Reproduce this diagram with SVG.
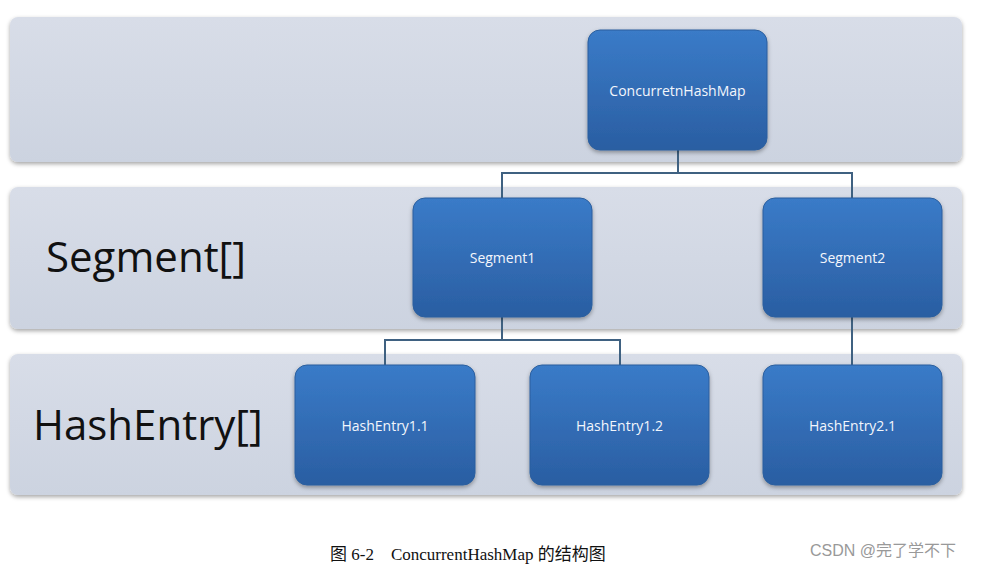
<svg xmlns="http://www.w3.org/2000/svg" width="997" height="568" viewBox="0 0 997 568">
<defs>
<linearGradient id="ng" x1="0" y1="0" x2="0" y2="1"><stop offset="0" stop-color="#3a7bc8"/><stop offset="1" stop-color="#2a5ea2"/></linearGradient>
<linearGradient id="bg" x1="0" y1="0" x2="0" y2="1"><stop offset="0" stop-color="#d8dde8"/><stop offset="1" stop-color="#ccd3e0"/></linearGradient>
<filter id="sh" x="-10%" y="-10%" width="120%" height="130%"><feDropShadow dx="0" dy="2" stdDeviation="2" flood-color="#000" flood-opacity="0.35"/></filter>
</defs>
<style>
.band{fill:url(#bg);filter:url(#sh)}
.node{fill:url(#ng);stroke:#2b5f9e;stroke-width:1;filter:url(#sh)}
.nt{font-family:"Open Sans","DejaVu Sans",sans-serif;font-size:14px;fill:#f2f6fc;text-anchor:middle;dominant-baseline:central}
.lbl{font-family:"Open Sans","DejaVu Sans",sans-serif;font-size:42px;fill:#111}
.conn{fill:none;stroke:#3f6181;stroke-width:2}
</style>
<rect width="997" height="568" fill="#fff"/>
<g id="bands">
<rect class="band" x="10" y="17" width="952" height="145" rx="8"/>
<rect class="band" x="10" y="187" width="952" height="142" rx="8"/>
<rect class="band" x="10" y="354" width="952" height="141" rx="8"/>
<text class="lbl" x="46" y="272">Segment[]</text>
<text class="lbl" x="33" y="440">HashEntry[]</text>
</g>
<g id="connectors">
<path class="conn" d="M678 150V173H502V198M678 173H852V198"/>
<path class="conn" d="M502 317V340H385V365M502 340H620V365"/>
<path class="conn" d="M852 317V365"/>
</g>
<g id="chm"><rect class="node" x="588" y="30" width="179" height="120" rx="12"/><text class="nt" x="677.5" y="90">ConcurretnHashMap</text></g>
<g id="seg1"><rect class="node" x="413" y="198" width="179" height="119" rx="12"/><text class="nt" x="502.5" y="257">Segment1</text></g>
<g id="seg2"><rect class="node" x="763" y="198" width="179" height="119" rx="12"/><text class="nt" x="852.5" y="257">Segment2</text></g>
<g id="he11"><rect class="node" x="295" y="365" width="180" height="120" rx="12"/><text class="nt" x="385" y="425">HashEntry1.1</text></g>
<g id="he12"><rect class="node" x="530" y="365" width="179" height="120" rx="12"/><text class="nt" x="619.5" y="425">HashEntry1.2</text></g>
<g id="he21"><rect class="node" x="763" y="365" width="179" height="120" rx="12"/><text class="nt" x="852.5" y="425">HashEntry2.1</text></g>
<text x="330" y="560" font-family="'Liberation Serif','Noto Sans CJK SC',serif" font-size="17" fill="#111">图 6-2　ConcurrentHashMap 的结构图</text>
<text x="810" y="556" font-family="'Liberation Sans','Noto Sans CJK SC',sans-serif" font-size="16" fill="#999">CSDN @完了学不下</text>
</svg>
